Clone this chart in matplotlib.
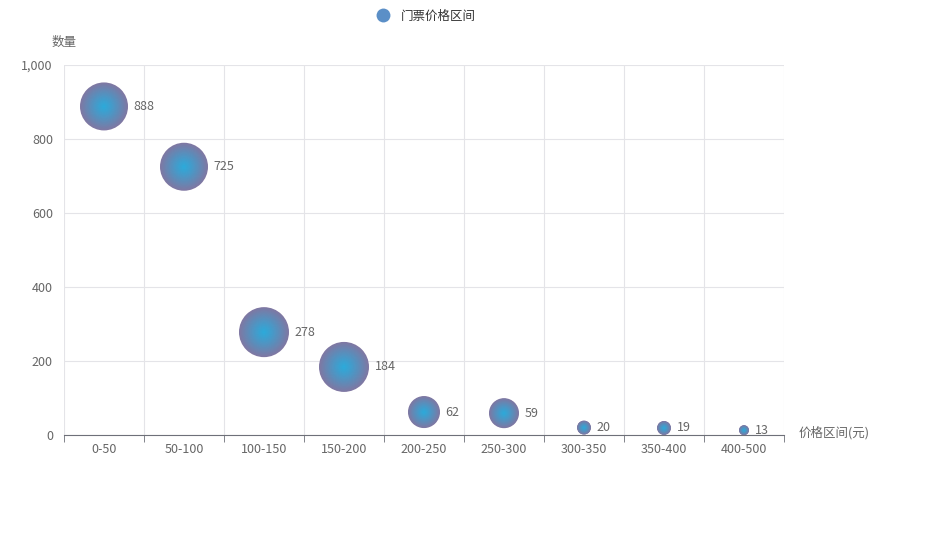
import numpy as np
import matplotlib
matplotlib.use("Agg")
import matplotlib.pyplot as plt
from matplotlib.lines import Line2D

plt.rcParams['font.family'] = ['Noto Sans CJK SC', 'DejaVu Sans']

# data
categories = ['0-50', '50-100', '100-150', '150-200', '200-250',
              '250-300', '300-350', '350-400', '400-500']
counts = [888, 725, 278, 184, 62, 59, 20, 19, 13]

# bubble diameters in pixels (style)
diam_px = [48, 48, 50, 50, 32, 30, 14, 14, 10]

text_col = '#666666'
grid_col = '#e4e4e8'
c_center = np.array([0.17, 0.67, 0.86])
c_edge = np.array([0.50, 0.47, 0.64])

fig = plt.figure(figsize=(9.45, 5.39), dpi=100)
W, H = 945, 539
ax = fig.add_axes([64 / W, 1 - 435 / H, 720 / W, 370 / H])

x = np.arange(len(categories))
ax.set_xlim(-0.5, len(categories) - 0.5)
ax.set_ylim(0, 1000)

# radial gradient bubbles: stacked circles
n_layers = 30
for i in range(n_layers):
    f = 1 - i / n_layers
    col = c_center + (c_edge - c_center) * f ** 1.1
    sizes = [(d * f * 0.72) ** 2 for d in diam_px]
    ax.scatter(x, counts, s=sizes, color=col, linewidths=0, zorder=3 + i * 0.01)

for xi, yi, d in zip(x, counts, diam_px):
    ax.annotate(str(yi), (xi, yi), xytext=(d / 2 * 0.72 + 4, 0),
                textcoords='offset points', va='center', ha='left',
                fontsize=9, color=text_col, zorder=5)

# grid
ax.set_yticks([0, 200, 400, 600, 800, 1000])
ax.set_yticklabels(['0', '200', '400', '600', '800', '1,000'])
ax.set_xticks(x)
ax.set_xticklabels(categories)
ax.set_xticks(np.arange(len(categories) + 1) - 0.5, minor=True)
ax.grid(True, axis='y', color=grid_col, linewidth=0.8)
ax.grid(True, axis='x', which='minor', color=grid_col, linewidth=0.8)
ax.set_axisbelow(True)

for s in ['top', 'right', 'left']:
    ax.spines[s].set_visible(False)
ax.spines['bottom'].set_color('#6e7079')
ax.tick_params(axis='x', which='major', length=0, pad=6, labelsize=9, labelcolor=text_col)
ax.tick_params(axis='x', which='minor', length=5, color='#6e7079', direction='out')
ax.tick_params(axis='y', length=0, pad=8, labelsize=9, labelcolor=text_col)

fig.text(64 / W, 1 - 42 / H, '数量', ha='center', va='center', fontsize=9, color=text_col)
fig.text(799 / W, 1 - 433 / H, '价格区间(元)', ha='left', va='center', fontsize=9, color=text_col)

# legend
handle = Line2D([], [], marker='o', linestyle='none', markersize=10,
                markerfacecolor='#5b8fc7', markeredgewidth=0)
fig.legend([handle], ['门票价格区间'], loc='center', bbox_to_anchor=(423 / W, 1 - 16 / H),
           frameon=False, fontsize=9, labelcolor='#333333', handletextpad=0.4)

fig.savefig('out.png', dpi=100)
